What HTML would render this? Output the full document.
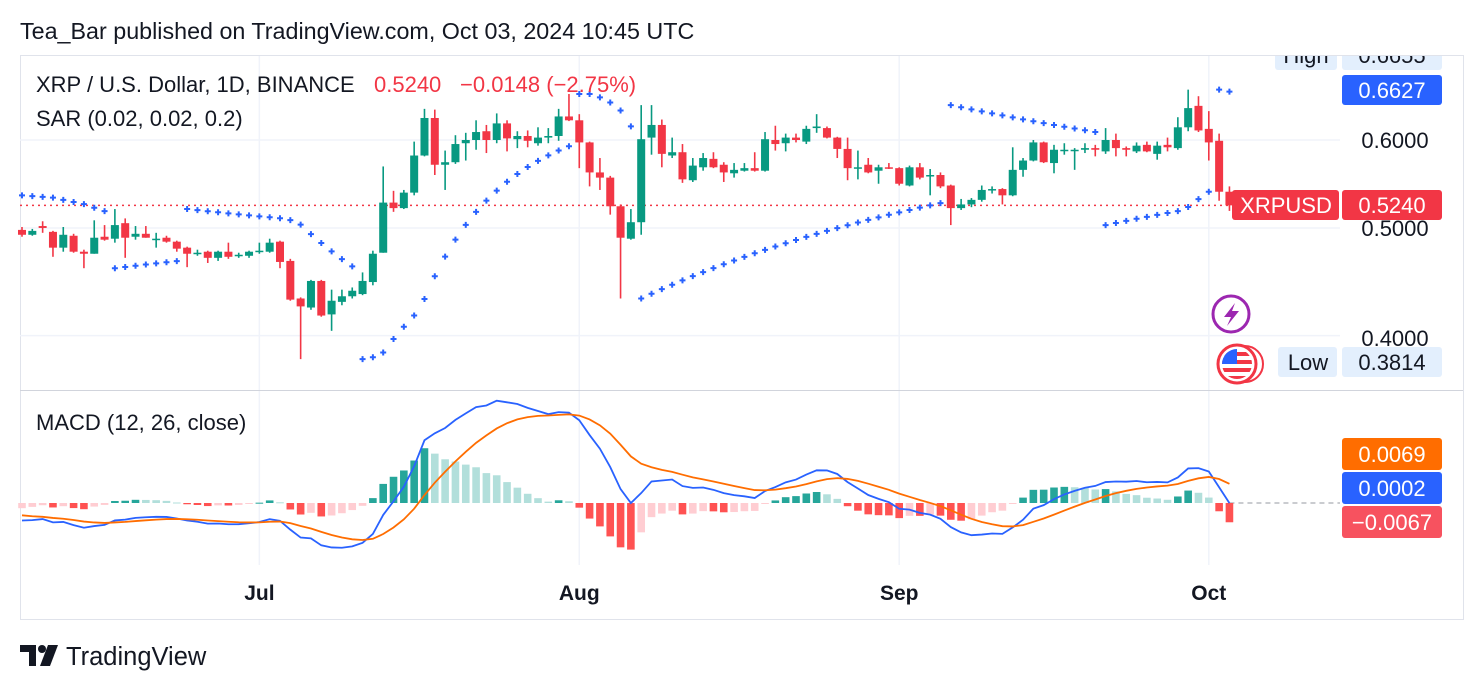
<!DOCTYPE html>
<html><head><meta charset="utf-8">
<style>
html,body{margin:0;padding:0;background:#fff;}
svg{display:block;font-family:"Liberation Sans",Arial,sans-serif;}
</style></head>
<body>
<svg id="c" width="1484" height="690" viewBox="0 0 1484 690" xmlns="http://www.w3.org/2000/svg">
<text x="20" y="39" font-size="23.3" fill="#131722">Tea_Bar published on TradingView.com, Oct 03, 2024 10:45 UTC</text>
<rect x="20.5" y="55.5" width="1443" height="564" fill="none" stroke="#e0e3eb"/>
<g id="grid"></g>
<g id="macdg"></g>
<g id="priceg"></g>
<line x1="20" y1="390.5" x2="1463" y2="390.5" stroke="#d1d4dc"/>
<text x="36" y="92" font-size="22" fill="#131722">XRP / U.S. Dollar, 1D, BINANCE</text>
<text x="374" y="92" font-size="22" fill="#f23645">0.5240</text>
<text x="460" y="92" font-size="22" fill="#f23645">−0.0148 (−2.75%)</text>
<text x="36" y="126" font-size="22" fill="#131722">SAR (0.02, 0.02, 0.2)</text>
<text x="36" y="430" font-size="22" fill="#131722">MACD (12, 26, close)</text>
<g font-size="22" text-anchor="middle">
 <clipPath id="topclip"><rect x="0" y="56" width="1484" height="700"/></clipPath>
 <g clip-path="url(#topclip)">
  <rect x="1275" y="43" width="62" height="27" rx="3" fill="#e3effd"/>
  <text x="1306" y="63" fill="#131722">High</text>
  <rect x="1342" y="43" width="100" height="27" rx="3" fill="#e3effd"/>
  <text x="1392" y="63" fill="#131722">0.6655</text>
 </g>
 <rect x="1342" y="75" width="100" height="30" rx="3" fill="#2962ff"/>
 <text x="1392" y="98" fill="#fff">0.6627</text>
 <text x="1395" y="148" fill="#131722">0.6000</text>
 <text x="1395" y="236" fill="#131722">0.5000</text>
 <text x="1395" y="346" fill="#131722">0.4000</text>
 <rect x="1232" y="190" width="107" height="30" rx="3" fill="#f23645"/>
 <text x="1286" y="213" fill="#fff">XRPUSD</text>
 <rect x="1342" y="190" width="100" height="30" rx="3" fill="#f23645"/>
 <text x="1392" y="213" fill="#fff">0.5240</text>
 <rect x="1278" y="347" width="59" height="30" rx="3" fill="#e3effd"/>
 <text x="1308" y="370" fill="#131722">Low</text>
 <rect x="1342" y="347" width="100" height="30" rx="3" fill="#e3effd"/>
 <text x="1392" y="370" fill="#131722">0.3814</text>
 <rect x="1342" y="438" width="100" height="32" rx="3" fill="#ff6d00"/>
 <text x="1392" y="462" fill="#fff">0.0069</text>
 <rect x="1342" y="472" width="100" height="32" rx="3" fill="#2962ff"/>
 <text x="1392" y="496" fill="#fff">0.0002</text>
 <rect x="1342" y="506" width="100" height="32" rx="3" fill="#f7525f"/>
 <text x="1392" y="530" fill="#fff">−0.0067</text>
</g>
<g>
 <circle cx="1231" cy="314" r="18" fill="#fff" stroke="#9c27b0" stroke-width="3"/>
 <path d="M1235 303 L1224 317 L1231 317 L1227 326 L1239 311 L1232 311 Z" fill="#9c27b0"/>
</g>
<g>
 <circle cx="1245" cy="364" r="18" fill="#fff" stroke="#f23645" stroke-width="2"/>
 <circle cx="1237" cy="364" r="19" fill="#fff" stroke="#f23645" stroke-width="3"/>
 <clipPath id="flag"><circle cx="1237" cy="364" r="15"/></clipPath>
 <g clip-path="url(#flag)">
  <rect x="1220" y="348" width="34" height="34" fill="#fff"/>
  <rect x="1220" y="352" width="34" height="4" fill="#f23645"/>
  <rect x="1220" y="360" width="34" height="4" fill="#f23645"/>
  <rect x="1220" y="368" width="34" height="4" fill="#f23645"/>
  <rect x="1220" y="376" width="34" height="4" fill="#f23645"/>
  <rect x="1220" y="348" width="17" height="16" fill="#2962ff"/>
 </g>
</g>
<g font-size="21" font-weight="bold" fill="#131722" text-anchor="middle" id="timeg"></g>
<g>
 <path d="M20 645 H36 V666 H29 V652 H20 Z" fill="#131722"/>
 <circle cx="42" cy="649" r="4" fill="#131722"/>
 <path d="M48 645 H58 L50 666 H40 Z" fill="#131722"/>
 <text x="66" y="665" font-size="25.5" fill="#131722">TradingView</text>
</g>
</svg>
<script>
const opens=[.498,.493,.502,.496,.480,.492,.476,.474,.491,.489,.505,.491,.494,.489,.490,.486,.480,.474,.476,.470,.476,.472,.472,.476,.476,.486,.467,.432,.424,.448,.418,.429,.434,.436,.447,.475,.527,.521,.538,.581,.628,.570,.573,.596,.600,.611,.600,.621,.601,.605,.596,.603,.605,.630,.625,.597,.561,.555,.523,.489,.506,.603,.619,.581,.585,.552,.567,.577,.570,.560,.563,.566,.563,.600,.596,.603,.598,.615,.615,.603,.589,.567,.570,.563,.567,.566,.546,.567,.558,.558,.546,.521,.525,.530,.541,.542,.535,.564,.575,.597,.572,.588,.588,.588,.590,.586,.600,.590,.586,.594,.583,.594,.590,.616,.644,.614,.599,.539];
const highs=[.501,.499,.507,.497,.501,.494,.478,.508,.503,.520,.510,.502,.502,.495,.492,.487,.481,.478,.477,.477,.485,.475,.477,.485,.489,.487,.469,.433,.449,.449,.440,.440,.442,.456,.477,.568,.540,.541,.598,.640,.639,.587,.606,.609,.625,.619,.634,.625,.611,.612,.616,.615,.640,.660,.633,.598,.578,.557,.525,.520,.645,.645,.626,.603,.595,.578,.584,.585,.573,.572,.572,.585,.610,.618,.608,.608,.618,.633,.617,.604,.603,.587,.578,.570,.572,.567,.569,.572,.565,.561,.547,.531,.532,.546,.545,.543,.591,.578,.600,.598,.594,.596,.590,.596,.594,.615,.608,.592,.597,.598,.598,.603,.629,.666,.657,.637,.608,.545];
const lows=[.491,.492,.495,.471,.476,.475,.460,.474,.487,.485,.470,.488,.490,.480,.485,.476,.461,.472,.465,.467,.469,.470,.470,.474,.475,.460,.430,.381,.422,.416,.404,.426,.432,.435,.444,.475,.517,.520,.535,.580,.558,.541,.571,.575,.588,.584,.596,.586,.590,.591,.593,.596,.599,.624,.566,.545,.541,.514,.432,.488,.493,.582,.567,.578,.549,.550,.563,.566,.550,.555,.562,.562,.562,.587,.586,.597,.595,.609,.602,.578,.552,.553,.560,.548,.565,.546,.545,.553,.535,.543,.503,.519,.522,.528,.537,.525,.534,.556,.574,.572,.560,.582,.564,.584,.580,.583,.580,.580,.584,.585,.576,.586,.588,.611,.610,.575,.529,.518];
const closes=[.493,.497,.500,.480,.493,.476,.474,.490,.488,.503,.490,.494,.490,.489,.486,.479,.474,.475,.470,.476,.471,.473,.476,.477,.485,.466,.431,.425,.448,.417,.430,.434,.439,.448,.474,.527,.521,.538,.581,.628,.570,.573,.595,.600,.610,.600,.621,.602,.605,.599,.603,.605,.630,.625,.597,.561,.555,.523,.490,.506,.601,.619,.583,.585,.553,.569,.578,.567,.561,.564,.566,.563,.601,.595,.603,.600,.614,.617,.603,.589,.566,.567,.561,.567,.566,.548,.567,.555,.558,.545,.521,.525,.530,.541,.542,.535,.564,.575,.597,.573,.588,.588,.588,.590,.588,.600,.590,.588,.593,.586,.593,.591,.616,.641,.612,.597,.539,.524];
const timeLabels=["Jul","Aug","Sep","Oct"];
const timeIdx=[23,54,85,115];
const priceTicks=[0.6,0.5,0.4];
const lastPrice=0.524;

const NS="http://www.w3.org/2000/svg";
function el(tag,attrs,parent){const e=document.createElementNS(NS,tag);for(const k in attrs)e.setAttribute(k,attrs[k]);parent.appendChild(e);return e;}
const X=i=>22+i*10.32;
const Y=p=>140-1111*Math.log10(p/0.6);
const M=v=>503-v*2750;
const grid=document.getElementById('grid'),pg=document.getElementById('priceg'),mg=document.getElementById('macdg'),tg=document.getElementById('timeg');

priceTicks.forEach(p=>{const l=el('line',{x1:20,x2:1340,y1:Y(p),y2:Y(p),stroke:'#f0f3fa','stroke-width':1.5},grid);

});
timeIdx.forEach((ix,k)=>{const l=el('line',{x1:X(ix),x2:X(ix),y1:56,y2:565,stroke:'#f0f3fa','stroke-width':1.5},grid);


const t=el('text',{x:X(ix),y:600},tg);t.textContent=timeLabels[k];

});

const lp=el('line',{x1:20,x2:1232,y1:Y(lastPrice),y2:Y(lastPrice),stroke:'#f23645','stroke-width':1.5,'stroke-dasharray':'2 4'},pg);



for(let i=0;i<closes.length;i++){
 const up=closes[i]>=opens[i];const col=up?'#089981':'#f23645';
 const g=el('g',{},pg);
 
 
 el('line',{x1:X(i),x2:X(i),y1:Y(highs[i]),y2:Y(lows[i]),stroke:col,'stroke-width':1.6},g);
 const t=Y(Math.max(opens[i],closes[i])),b=Y(Math.min(opens[i],closes[i]));
 el('rect',{x:X(i)-4,y:t,width:8,height:Math.max(b-t,1.5),fill:col},g);
}

const sar=[];
(function(){let up=false,s=0.535,ep=lows[0],af=0.02;
for(let i=0;i<closes.length;i++){
 if(up){ if(lows[i]<s){up=false;s=ep;ep=lows[i];af=0.02;} else if(highs[i]>ep){ep=highs[i];af=Math.min(af+0.02,0.2);} }
 else { if(highs[i]>s){up=true;s=ep;ep=highs[i];af=0.02;} else if(lows[i]<ep){ep=lows[i];af=Math.min(af+0.02,0.2);} }
 sar.push(s);
 let n=s+af*(ep-s);
 if(up){n=Math.min(n,lows[i],i>0?lows[i-1]:lows[i]);} else {n=Math.max(n,highs[i],i>0?highs[i-1]:highs[i]);}
 s=n;
}})();
for(let i=0;i<sar.length;i++){
 const y=Y(sar[i]),x=X(i);
 const p=el('path',{d:`M${x-3} ${y}H${x+3}M${x} ${y-3}V${y+3}`,stroke:'#2962ff','stroke-width':2},pg);
 
 
}

let e12=0.503,e26=0.509;const macd=[],sig=[],hist=[];let sg=-0.004;
for(let i=0;i<closes.length;i++){
 e12=e12+(closes[i]-e12)*2/13;e26=e26+(closes[i]-e26)*2/27;
 const m=e12-e26;sg=sg+(m-sg)*2/10;macd.push(m);sig.push(sg);hist.push(m-sg);
}
const zl=el('line',{x1:X(closes.length-1),x2:1340,y1:M(0),y2:M(0),stroke:'#9598a1','stroke-dasharray':'5 4'},mg);


for(let i=0;i<hist.length;i++){
 const h=hist[i],prev=i>0?hist[i-1]:h;
 let col; if(h>=0) col=h>=prev?'#26a69a':'#b2dfdb'; else col=h<prev?'#ff5252':'#ffcdd2';
 const y0=M(0),y1=M(h);
 const r=el('rect',{x:X(i)-3.8,y:Math.min(y0,y1),width:7.6,height:Math.max(Math.abs(y1-y0),1),fill:col},mg);
 
 
}
const pm=el('polyline',{points:macd.map((v,i)=>X(i)+','+M(v)).join(' '),fill:'none',stroke:'#2962ff','stroke-width':1.8},mg);


const ps=el('polyline',{points:sig.map((v,i)=>X(i)+','+M(v)).join(' '),fill:'none',stroke:'#ff6d00','stroke-width':1.8},mg);


</script>
</body></html>
